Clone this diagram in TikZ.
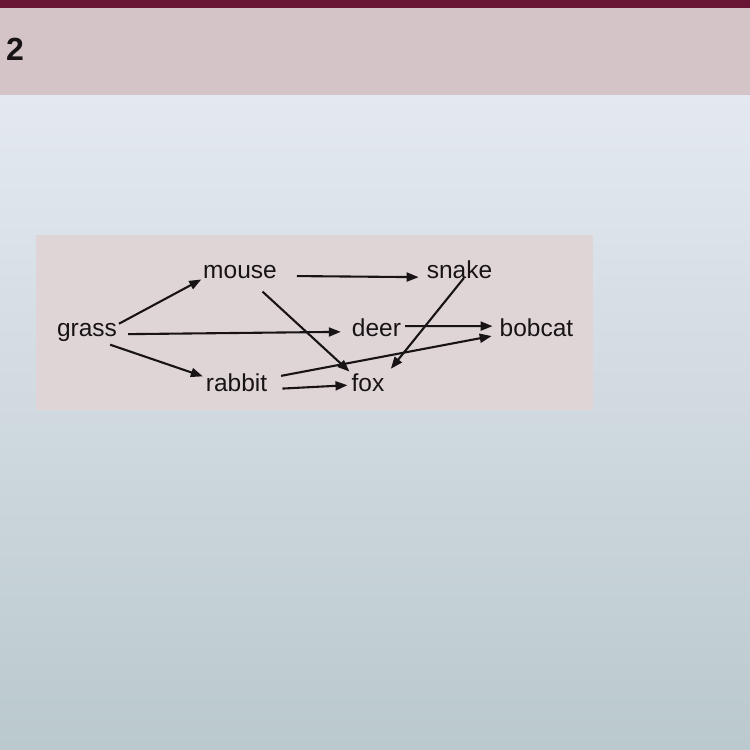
\documentclass[tikz,border=0pt]{standalone}
\usepackage{fontspec}
\setmainfont{Liberation Sans}
\usetikzlibrary{arrows.meta}
\definecolor{screenbar}{RGB}{105,22,52}
\definecolor{headband}{RGB}{212,196,200}
\definecolor{pagetop}{RGB}{228,233,241}
\definecolor{pagemid}{RGB}{220,229,233}
\definecolor{pagebottom}{RGB}{186,201,205}
\definecolor{webbox}{RGB}{223,213,214}
\definecolor{ink}{RGB}{24,20,22}
\begin{document}
\begin{tikzpicture}[scale=0.3528,
    animal/.style={inner sep=0pt, text height=17.6bp, text depth=4.9bp,
      font=\fontsize{24.5bp}{29bp}\selectfont, text=ink},
    eats/.style={draw=ink, line width=2.1bp, -{Triangle[length=12bp,width=9bp]}}]
    \useasboundingbox (0,0) rectangle (75,-75);
    \shade [top color=pagetop, middle color=pagemid, bottom color=pagebottom] (0,-9.5) rectangle (75,-75);
    \fill [headband] (0,-0.8) rectangle (75,-9.5);
    \fill [screenbar] (0,0) rectangle (75,-0.8);
    \fill [webbox] (3.6,-23.5) rectangle (59.3,-41.0);
    \node [font=\fontsize{32bp}{36bp}\selectfont\bfseries, text=ink] (qnum) at (1.5,-4.9) {2};
    \node [animal] (grass) at (8.7,-33.0) {grass};
    \node [animal] (mouse) at (24.0,-27.2) {mouse};
    \node [animal] (snake) at (45.95,-27.2) {snake};
    \node [animal] (deer) at (37.65,-33.0) {deer};
    \node [animal] (bobcat) at (53.65,-33.0) {bobcat};
    \node [animal] (rabbit) at (23.65,-38.5) {rabbit};
    \node [animal] (fox) at (36.8,-38.5) {fox};
    \draw [eats, shorten <=2bp, shorten >=2bp] (grass.10.6) -- (mouse.190.2);
    \draw [eats, shorten <=11bp, shorten >=11bp] (grass.-8.3) -- (deer.184.8);
    \draw [eats, shorten <=10bp, shorten >=3bp] (grass.-40.6) -- (rabbit.166.6);
    \draw [eats, shorten <=20bp, shorten >=8bp] (mouse.-6) -- (snake.189.8);
    \draw [eats, shorten <=12bp, shorten >=3bp] (mouse.-40.8) -- (fox.145.6);
    \draw [eats, shorten <=-7bp, shorten >=10bp] (snake.south) -- (fox.27.5);
    \draw [eats, shorten <=4bp, shorten >=7bp] (deer.9.95) -- (bobcat.174.7);
    \draw [eats, shorten <=14bp, shorten >=8bp] (rabbit.12.7) -- (bobcat.187.7);
    \draw [eats, shorten <=15bp, shorten >=4bp] (rabbit.-8.7) -- (fox.180);
\end{tikzpicture}
\end{document}
